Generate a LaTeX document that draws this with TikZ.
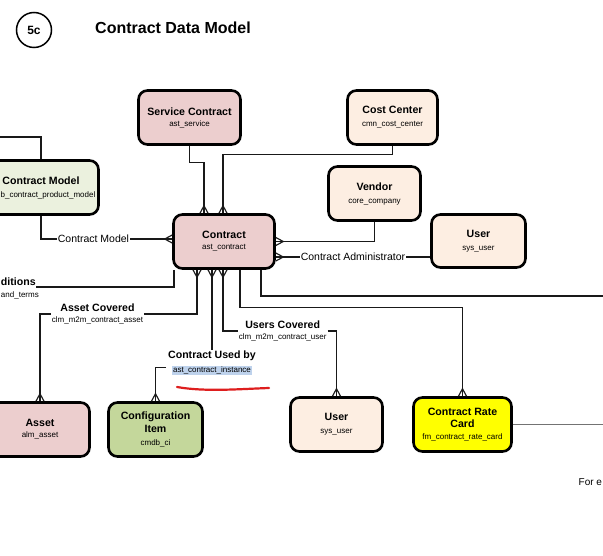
\documentclass[tikz,border=0pt]{standalone}
\usepackage{fontspec}
\setmainfont{Liberation Sans}
\usetikzlibrary{calc}
\definecolor{pinkc}{RGB}{236,206,206}
\definecolor{peachc}{RGB}{253,238,226}
\definecolor{modelc}{RGB}{235,241,222}
\definecolor{cic}{RGB}{196,215,155}
\definecolor{ratec}{RGB}{255,255,0}
\definecolor{hlc}{RGB}{190,210,236}
\definecolor{redink}{RGB}{222,30,30}
\newcommand\boxtitle{\fontsize{10.6}{12.7}\selectfont\bfseries}
\newcommand\subtitlefont{\fontsize{8}{10}\selectfont}
\begin{document}
\begin{tikzpicture}[x=1pt,y=-1pt,
  box/.style={draw=black, line width=2.6pt, rounded corners=9pt, align=center, inner sep=0pt, font=\subtitlefont},
  conn/.style={draw=black!90, line width=1.15pt},
  lbl/.style={fill=white, inner sep=1pt, font=\fontsize{10.5}{12}\selectfont},
  rel/.style={align=center, inner sep=1pt, font=\subtitlefont},
  ftop/.pic={\draw[conn] (-4,0) -- (0,-7.5) -- (4,0);},
  fbottom/.pic={\draw[conn] (-4,0) -- (0,7.5) -- (4,0);},
  fleft/.pic={\draw[conn] (0,-4) -- (-7.5,0) -- (0,4);},
  fright/.pic={\draw[conn] (0,-4) -- (7.5,0) -- (0,4);}
]
\useasboundingbox (0,0) rectangle (603,556);
\clip (0,0) rectangle (603,556);
\fill[white] (0,0) rectangle (603,556);

% header
\node[circle, draw, line width=1.5pt, minimum size=35pt, inner sep=0pt, font=\fontsize{12}{14}\selectfont\bfseries] (num) at (34,30) {5c};
\node[anchor=west, inner sep=0pt, font=\fontsize{16}{19}\selectfont\bfseries] (title) at (95,28) {Contract Data Model};

% entity boxes
\node[box, fill=pinkc, minimum width=102pt, minimum height=54pt] (svc) at (189.5,117.5) {{\boxtitle Service Contract}\\[1pt]ast\_service};
\node[box, fill=peachc, minimum width=90pt, minimum height=54pt] (cost) at (392.5,117.5) {{\boxtitle Cost Center}\\[3pt]cmn\_cost\_center};
\node[box, fill=peachc, minimum width=92pt, minimum height=54pt] (vendor) at (374.5,193.5) {{\boxtitle Vendor}\\[3pt]core\_company};
\node[box, fill=pinkc, minimum width=101pt, minimum height=54pt] (contract) at (224,241.5) {{\boxtitle Contract}\\[1pt]ast\_contract};
\node[box, fill=peachc, minimum width=94pt, minimum height=53pt] (userR) at (478.5,241) {{\boxtitle User}\\[3pt]sys\_user};
\node[box, fill=modelc, minimum width=115pt, minimum height=54pt] (cmodel) at (41,187.5) {{\boxtitle Contract Model}\\[3pt]\hspace*{14pt}b\_contract\_product\_model};
\node[box, fill=pinkc, minimum width=99pt, minimum height=54pt] (asset) at (40,429.5) {{\boxtitle Asset}\\[1pt]alm\_asset};
\node[box, fill=cic, minimum width=94pt, minimum height=54pt] (ci) at (155.5,429.5) {{\boxtitle Configuration}\\[2.3pt]{\boxtitle Item}\\[3pt]cmdb\_ci};
\node[box, fill=peachc, minimum width=92pt, minimum height=54pt] (userB) at (336.5,424.5) {{\boxtitle User}\\[3pt]sys\_user};
\node[box, fill=ratec, minimum width=98pt, minimum height=54pt] (rate) at (462.5,424.5) {{\boxtitle Contract Rate}\\[2pt]{\boxtitle Card}\\[1.5pt]fm\_contract\_rate\_card};

% partial label at the left edge
\node[anchor=west, inner sep=0pt, font=\boxtitle] (condt) at (0.8,282) {ditions};
\node[anchor=west, inner sep=0pt, font=\subtitlefont] (conds) at (0.8,295) {and\_terms};
\coordinate (condend) at (36,287);

% relationship labels
\node[rel] (acov) at (97.5,314) {{\boxtitle Asset Covered}\\[1pt]clm\_m2m\_contract\_asset};
\node[rel] (ucov) at (282.7,331) {{\boxtitle Users Covered}\\[1pt]clm\_m2m\_contract\_user};
\node[inner sep=1pt, font=\boxtitle] (cubt) at (212,356) {Contract Used by};
\node[fill=hlc, inner sep=0.8pt, font=\subtitlefont] (cubs) at (212,370.5) {ast\_contract\_instance};
\node[anchor=west, inner sep=0pt, font=\fontsize{10}{12}\selectfont] (fore) at (578.5,482) {For e};

% off-canvas ends
\coordinate (offL) at (-20,137);
\coordinate (offR1) at (620,296);
\coordinate (offR2) at (620,424.5);
\coordinate (ca) at ($(contract.east)+(0,15.5)$);
\coordinate (cm) at ($(contract.west)+(0,-2.5)$);

% connectors
\draw[conn] (svc.south) -- ++(0,17) -| ([xshift=-20pt]contract.north);
\draw[conn] (cost.south) -- ++(0,9) -| ([xshift=-1pt]contract.north);
\draw[conn] (vendor.south) |- (contract.east);
\draw[conn] (ca) -- node[lbl] (calbl) {Contract Administrator} (ca -| userR.west);
\draw[conn] (cmodel.south) |- node[lbl, pos=0.7] (cmlbl) {Contract Model} (cm);
\draw[conn] (offL) -| (cmodel.north);
\draw[conn] ([xshift=-50pt]contract.south) |- (condend);
\draw[conn] ([xshift=-27pt]contract.south) |- (acov.east);
\draw[conn] (acov.west) -| (asset.north);
\draw[conn] ([xshift=-12pt]contract.south) -- (cubt.north);
\draw[conn] ($(cubs.west)+(-6,-3)$) -| (ci.north);
\draw[conn] ([xshift=-1pt]contract.south) |- (ucov.west);
\draw[conn] (ucov.east) -| (userB.north);
\draw[conn] ([xshift=16pt]contract.south) -- ++(0,38) -| (rate.north);
\draw[conn] ([xshift=37pt]contract.south) |- (offR1);
\draw[conn, draw=black!55] (rate.east) -- (offR2);

% crow's feet
\pic at ([xshift=-20pt]contract.north) {ftop};
\pic at ([xshift=-1pt]contract.north) {ftop};
\pic at (cm) {fleft};
\pic at (contract.east) {fright};
\pic at (ca) {fright};
\pic at ([xshift=-27pt]contract.south) {fbottom};
\pic at ([xshift=-12pt]contract.south) {fbottom};
\pic at ([xshift=-1pt]contract.south) {fbottom};
\pic at (asset.north) {ftop};
\pic at (ci.north) {ftop};
\pic at (userB.north) {ftop};
\pic at (rate.north) {ftop};

% red hand-drawn underline
\draw[redink, line width=2.2pt, line cap=round] (177,387) .. controls (205,392) and (240,389) .. (269,388);
\end{tikzpicture}
\end{document}
